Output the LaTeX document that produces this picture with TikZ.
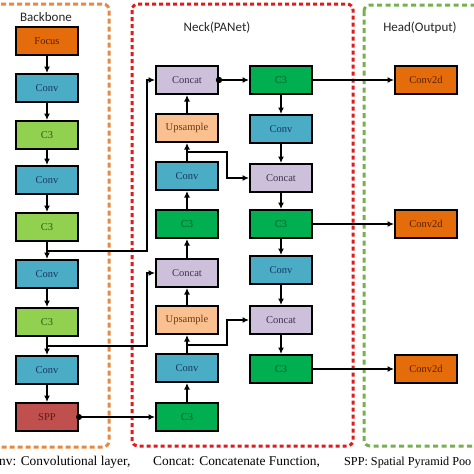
\documentclass[tikz,border=0pt]{standalone}
\usepackage{fontspec}
\setmainfont{Liberation Serif}
\newfontfamily\labelfont{Carlito}
\usetikzlibrary{arrows.meta}
\definecolor{focusfill}{HTML}{E46C0A}
\definecolor{focustext}{HTML}{5A1E00}
\definecolor{convfill}{HTML}{4BACC6}
\definecolor{convtext}{HTML}{17375E}
\definecolor{bcfill}{HTML}{92D050}
\definecolor{bctext}{HTML}{2F5A17}
\definecolor{ncfill}{HTML}{00B050}
\definecolor{nctext}{HTML}{0B5A2A}
\definecolor{catfill}{HTML}{CCC0DA}
\definecolor{cattext}{HTML}{3F3151}
\definecolor{upfill}{HTML}{FAC090}
\definecolor{uptext}{HTML}{6B3A10}
\definecolor{sppfill}{HTML}{C0504D}
\definecolor{spptext}{HTML}{5C1A18}
\definecolor{bbline}{HTML}{E8893D}
\definecolor{neckline}{HTML}{E31A1C}
\definecolor{headline}{HTML}{77B04E}
\tikzset{
  blk/.style={draw=black, line width=2pt, minimum width=62pt, minimum height=28pt,
              inner sep=0pt, font=\fontsize{10.5}{12}\selectfont},
  focusb/.style={blk, fill=focusfill, text=focustext},
  convb/.style={blk, fill=convfill, text=convtext},
  bc3/.style={blk, fill=bcfill, text=bctext},
  nc3/.style={blk, fill=ncfill, text=nctext},
  catb/.style={blk, fill=catfill, text=cattext},
  upb/.style={blk, fill=upfill, text=uptext},
  sppb/.style={blk, fill=sppfill, text=spptext},
  arr/.style={line width=1.3pt, -{Latex[length=6.5pt,width=6pt]}},
  jdot/.style={fill=black},
  grp/.style={line width=3pt, rounded corners=6pt},
  grplabel/.style={font=\labelfont\fontsize{13}{15}\selectfont, text=black!85},
  captext/.style={font=\fontsize{13.4}{15}\selectfont, anchor=base west, inner sep=0pt}
}
\begin{document}
\begin{tikzpicture}[x=1pt,y=-1pt]
\clip (0,0) rectangle (474,474);
\fill[white] (0,0) rectangle (474,474);
% group frames
\draw[grp, bbline, dash pattern=on 5pt off 3pt] (-20,4) rectangle (109,447);
\draw[grp, neckline, dash pattern=on 4pt off 3pt] (132,4) rectangle (353,446);
\draw[grp, headline, dash pattern=on 5pt off 3.5pt] (364,5) rectangle (500,446);
\node[grplabel] (lbb) at (46,17) {Backbone};
\node[grplabel] (lneck) at (217,28) {Neck(PANet)};
\node[grplabel] (lhead) at (420,28) {Head(Output)};
% backbone
\node[focusb] (b1) at (47,41) {Focus};
\node[convb] (b2) at (47,88) {Conv};
\node[bc3] (b3) at (47,135) {C3};
\node[convb] (b4) at (47,180) {Conv};
\node[bc3] (b5) at (47,227) {C3};
\node[convb] (b6) at (47,274) {Conv};
\node[bc3] (b7) at (47,322) {C3};
\node[convb] (b8) at (47,370) {Conv};
\node[sppb] (b9) at (47,417) {SPP};
% neck column 1
\node[catb] (n1) at (187,80) {Concat};
\node[upb] (n2) at (187,128) {Upsample};
\node[convb] (n3) at (187,176) {Conv};
\node[nc3] (n4) at (187,224) {C3};
\node[catb] (n5) at (187,273) {Concat};
\node[upb] (n6) at (187,320) {Upsample};
\node[convb] (n7) at (187,368) {Conv};
\node[nc3] (n8) at (187,417) {C3};
% neck column 2
\node[nc3] (m1) at (281,80) {C3};
\node[convb] (m2) at (281,129) {Conv};
\node[catb] (m3) at (281,178) {Concat};
\node[nc3] (m4) at (281,224) {C3};
\node[convb] (m5) at (281,270) {Conv};
\node[catb] (m6) at (281,320) {Concat};
\node[nc3] (m7) at (281,369) {C3};
% head
\node[focusb] (h1) at (426,80) {Conv2d};
\node[focusb] (h2) at (426,224) {Conv2d};
\node[focusb] (h3) at (426,369) {Conv2d};
% backbone chain
\foreach \a/\b in {b1/b2,b2/b3,b3/b4,b4/b5,b5/b6,b6/b7,b7/b8,b8/b9}
  \draw[arr] (\a) -- (\b);
% branch coordinates
\coordinate (jA) at (47,251);
\coordinate (cA) at (147,251);
\coordinate (jB) at (47,346);
\coordinate (cB) at (147,346);
\coordinate (jC) at (187,152);
\coordinate (cC) at (227,152);
\coordinate (jD) at (187,345);
\coordinate (cD) at (227,345);
\draw[arr] (jA) -- (cA) |- (n1.west);
\draw[arr] (jB) -- (cB) |- (n5.west);
\draw[arr] (b9.east) -- (n8.west);
\fill[jdot] (b9.east) circle (3pt);
% neck column 1 upward
\foreach \a/\b in {n8/n7,n7/n6,n6/n5,n5/n4,n4/n3,n3/n2,n2/n1}
  \draw[arr] (\a) -- (\b);
\draw[arr] (n1.east) -- (m1.west);
\fill[jdot] (n1.east) circle (3.2pt);
% neck column 2 downward
\foreach \a/\b in {m1/m2,m2/m3,m3/m4,m4/m5,m5/m6,m6/m7}
  \draw[arr] (\a) -- (\b);
\draw[arr] (jC) -- (cC) |- (m3.west);
\draw[arr] (jD) -- (cD) |- (m6.west);
% to head
\draw[arr] (m1.east) -- (h1.west);
\draw[arr] (m4.east) -- (h2.west);
\draw[arr] (m7.east) -- (h3.west);
% caption
\node[captext] (cap1) at (-1,465) {nv: Convolutional layer,};
\node[captext] (cap2) at (153,465) {Concat: Concatenate Function,};
\node[captext, font=\fontsize{12.2}{14}\selectfont] (cap3) at (344,465) {SPP: Spatial Pyramid Poo};
\end{tikzpicture}
\end{document}
